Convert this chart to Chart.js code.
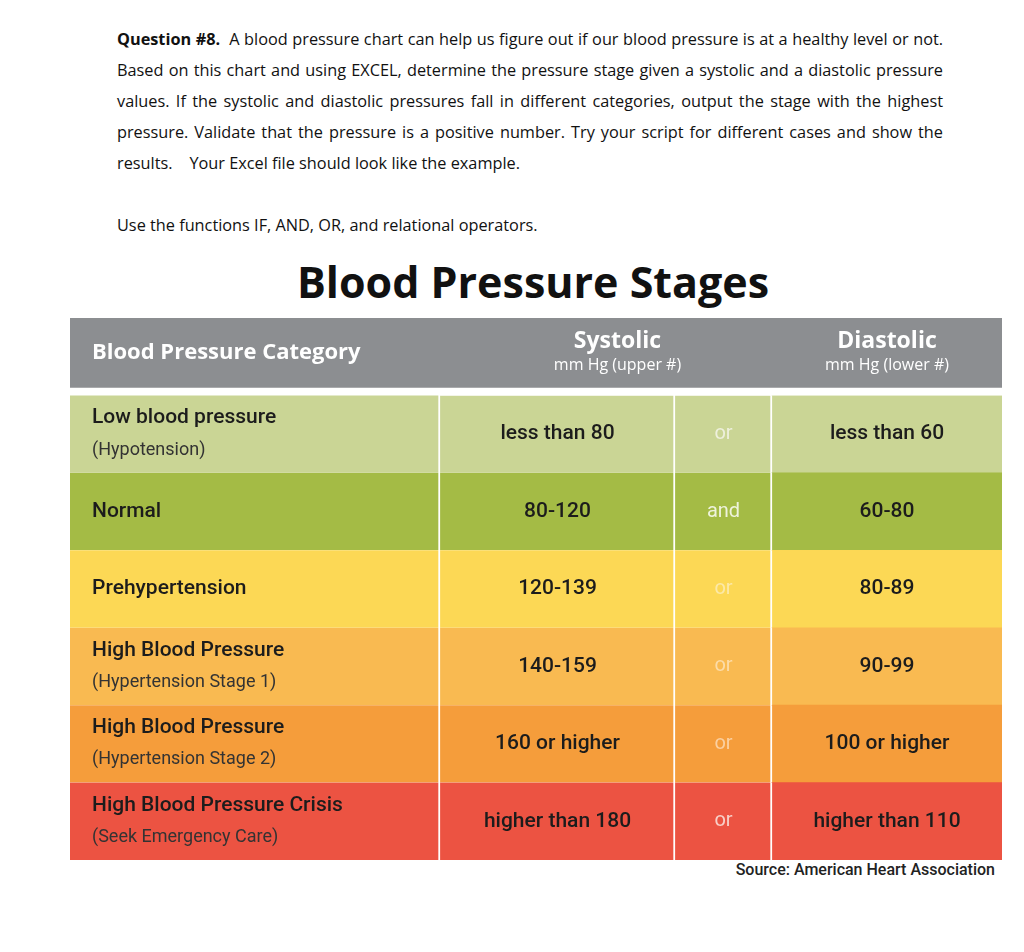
<!DOCTYPE html>
<html>
<head>
<meta charset="utf-8">
<script src="https://cdn.jsdelivr.net/npm/chart.js@4/dist/chart.umd.min.js"></script>
<style>
  body { margin: 0; background: #fff; width: 1024px; height: 952px; position: relative; font-family: 'Open Sans', sans-serif; }
  #q { position: absolute; left: 117px; top: 24px; width: 826px; font-size: 16.3px; line-height: 31px; color: #111; text-align: justify; }
  #q p { margin: 0; }
  #title { position: absolute; left: 0; width: 1066px; top: 252px; text-align: center; font: bold 43px 'Open Sans', sans-serif; color: #111; }
  #wrap { position: absolute; left: 70px; top: 318px; }
  #src { position: absolute; right: 29px; top: 860px; font: 500 16px Roboto, sans-serif; color: #222; }
</style>
</head>
<body>
<div id="q">
  <p><b>Question #8.</b>&nbsp; A blood pressure chart can help us figure out if our blood pressure is at a healthy level or not. Based on this chart and using EXCEL, determine the pressure stage given a systolic and a diastolic pressure values. If the systolic and diastolic pressures fall in different categories, output the stage with the highest pressure. Validate that the pressure is a positive number. Try your script for different cases and show the results.&nbsp;&nbsp;&nbsp; Your Excel file should look like the example.</p>
  <p style="margin-top:31px">Use the functions IF, AND, OR, and relational operators.</p>
</div>
<div id="title">Blood Pressure Stages</div>
<div id="wrap"><canvas id="c" width="932" height="542"></canvas></div>
<div id="src">Source: American Heart Association</div>
<script>
// rows top to bottom, first one is the header
const rows = ['header', 'low', 'normal', 'pre', 'hbp1', 'hbp2', 'crisis'];
const rowColors = ['#8c8e91', '#cad595', '#a4bb45', '#fcd855', '#f9ba51', '#f59d3b', '#ec5342'];
const colEdges = [0, 370, 605, 702, 932];
const categories = [
    ['Low blood pressure', '(Hypotension)'],
    ['Normal'],
    ['Prehypertension'],
    ['High Blood Pressure', '(Hypertension Stage 1)'],
    ['High Blood Pressure', '(Hypertension Stage 2)'],
    ['High Blood Pressure Crisis', '(Seek Emergency Care)']
];
const systolic = ['less than 80', '80-120', '120-139', '140-159', '160 or higher', 'higher than 180'];
const joiners = ['or', 'and', 'or', 'or', 'or', 'or'];
const diastolic = ['less than 60', '60-80', '80-89', '90-99', '100 or higher', 'higher than 110'];
const joinerColors = ['#eef0dc', '#eef3dc', '#fce9a8', '#fcdca8', '#fbd0a0', '#f8d0c8'];

const datasets = [0, 1, 2, 3].map(c => ({
    data: rows.map((r, i) => {
        if (i === 0) return c === 0 ? [colEdges[0], colEdges[4]] : null;
        return [colEdges[c], colEdges[c + 1]];
    }),
    backgroundColor: rowColors,
    borderColor: '#ffffff',
    borderWidth: rows.map((r, i) => i === 0 ? { bottom: 8 } : (c < 3 ? { right: 2 } : 0)),
    borderSkipped: false,
    categoryPercentage: 1,
    barPercentage: 1,
    grouped: false
}));

const textPlugin = {
    id: 'cellText',
    afterDatasetsDraw(chart) {
        const ctx = chart.ctx;
        const metas = [0, 1, 2, 3].map(i => chart.getDatasetMeta(i));
        ctx.save();
        ctx.textBaseline = 'middle';
        // header
        const h = metas[0].data[0];
        const hy = h.y - 4;
        ctx.fillStyle = '#ffffff';
        ctx.textAlign = 'left';
        ctx.font = 'bold 22px "Open Sans"';
        ctx.fillText('Blood Pressure Category', 22, hy);
        ctx.textAlign = 'center';
        [[1, 'Systolic', 'mm Hg (upper #)'], [3, 'Diastolic', 'mm Hg (lower #)']].forEach(([c, a, b]) => {
            const cx = (chart.scales.x.getPixelForValue(colEdges[c]) + chart.scales.x.getPixelForValue(colEdges[c + 1])) / 2 + (c === 1 ? 60 : 0);
            ctx.font = 'bold 23px "Open Sans"';
            ctx.fillText(a, cx, hy - 11);
            ctx.font = '16px "Open Sans"';
            ctx.fillText(b, cx, hy + 13);
        });
        // rows
        for (let r = 1; r < rows.length; r++) {
            const y = metas[0].data[r].y;
            const lines = categories[r - 1];
            ctx.textAlign = 'left';
            ctx.fillStyle = '#1c1c1c';
            if (lines.length === 1) {
                ctx.font = '500 21px Roboto';
                ctx.fillText(lines[0], 22, y);
            } else {
                ctx.font = '500 21px Roboto';
                ctx.fillText(lines[0], 22, y - 16);
                ctx.font = '18px Roboto';
                ctx.fillStyle = '#333';
                ctx.fillText(lines[1], 22, y + 16);
            }
            ctx.textAlign = 'center';
            ctx.font = '500 21px Roboto';
            ctx.fillStyle = '#1c1c1c';
            ctx.fillText(systolic[r - 1], metas[1].data[r].x - (metas[1].data[r].x - metas[1].data[r].base) / 2, y);
            ctx.fillText(diastolic[r - 1], metas[3].data[r].x - (metas[3].data[r].x - metas[3].data[r].base) / 2, y);
            ctx.font = '20px Roboto';
            ctx.fillStyle = joinerColors[r - 1];
            ctx.fillText(joiners[r - 1], metas[2].data[r].x - (metas[2].data[r].x - metas[2].data[r].base) / 2, y);
        }
        ctx.restore();
    }
};

new Chart(document.getElementById('c'), {
    type: 'bar',
    data: { labels: rows, datasets },
    options: {
        indexAxis: 'y',
        responsive: false,
        animation: false,
        events: [],
        layout: { padding: 0 },
        plugins: { legend: { display: false }, tooltip: { enabled: false } },
        scales: {
            x: { display: false, min: colEdges[0], max: colEdges[4] },
            y: { display: false }
        }
    },
    plugins: [textPlugin]
});
</script>
</body>
</html>
